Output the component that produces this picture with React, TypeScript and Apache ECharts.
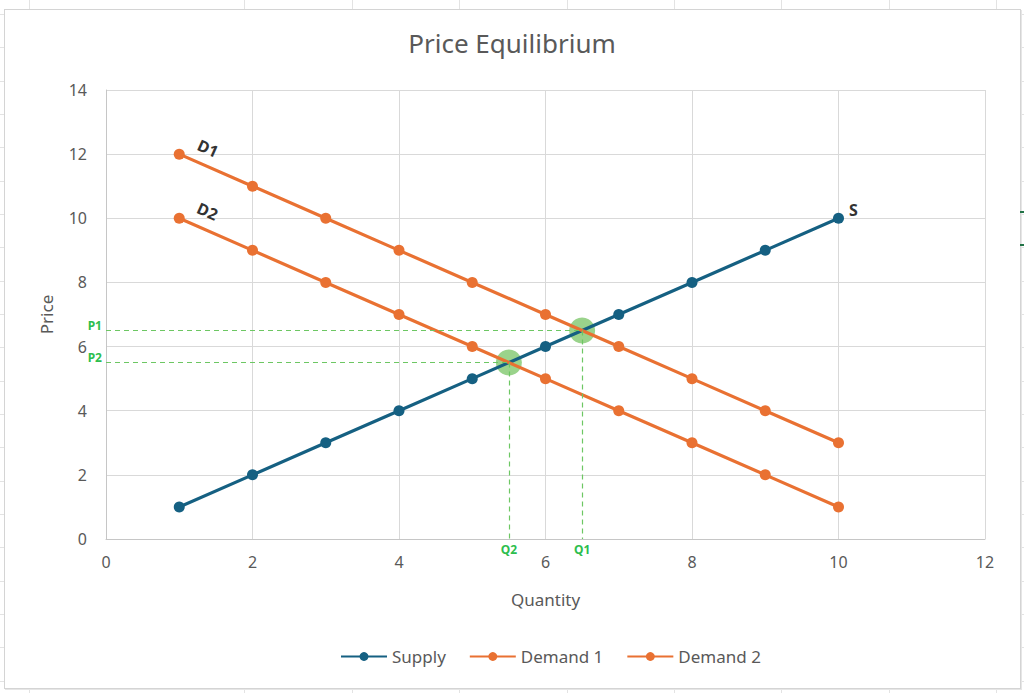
import React, { useEffect, useRef } from "react";
import * as echarts from "echarts";

const quantities = [1, 2, 3, 4, 5, 6, 7, 8, 9, 10];
const supply = [1, 2, 3, 4, 5, 6, 7, 8, 9, 10];
const demand1 = [12, 11, 10, 9, 8, 7, 6, 5, 4, 3];
const demand2 = [10, 9, 8, 7, 6, 5, 4, 3, 2, 1];
const eqQuantity = [6.5, 5.5];
const eqPrice = [6.5, 5.5];
const eqPriceLabels = ["P1", "P2"];
const eqQuantityLabels = ["Q1", "Q2"];
const seriesNames = ["Supply", "Demand 1", "Demand 2"];
const curveLabels = ["S", "D1", "D2"];

const FONT = "'Noto Sans', 'Open Sans', sans-serif";
const TEXT = "#595959";
const BLUE = "#156082";
const ORANGE = "#E97132";
const GREEN_TXT = "#2DBE4E";
const GREEN_LINE = "#6DC763";

export default function App() {
  const ref = useRef<HTMLDivElement>(null);

  useEffect(() => {
    if (!ref.current) return;
    const chart = echarts.init(ref.current, undefined, { renderer: "svg" });

    const curveLabel = (text: string, rotate: number, offset: number[]) => ({
      show: true,
      formatter: text,
      position: "inside",
      offset,
      rotate,
      fontFamily: FONT,
      fontWeight: "bold",
      fontSize: 16,
      color: "#333333",
    });

    const supplyData = quantities.map((q, i) =>
      i === quantities.length - 1
        ? { value: [q, supply[i]], label: curveLabel(curveLabels[0], 0, [15, -8]) }
        : [q, supply[i]]
    );
    const d1Data = quantities.map((q, i) =>
      i === 0
        ? { value: [q, demand1[i]], label: curveLabel(curveLabels[1], -24, [24, -17]) }
        : [q, demand1[i]]
    );
    const d2Data = quantities.map((q, i) =>
      i === 0
        ? { value: [q, demand2[i]], label: curveLabel(curveLabels[2], -24, [23, -18]) }
        : [q, demand2[i]]
    );

    const greenLabel = {
      show: true,
      color: GREEN_TXT,
      fontFamily: FONT,
      fontWeight: "bold",
      fontSize: 12,
    };

    const markLines: any[] = [];
    eqQuantity.forEach((q, i) => {
      markLines.push([
        {
          coord: [0, eqPrice[i]],
          label: { ...greenLabel, formatter: eqPriceLabels[i], position: "start", distance: 4, offset: [0, -5] },
        },
        { coord: [q, eqPrice[i]] },
      ]);
      markLines.push([
        {
          coord: [q, eqPrice[i]],
          label: { ...greenLabel, formatter: eqQuantityLabels[i], position: "end", distance: 4 },
        },
        { coord: [q, 0] },
      ]);
    });

    const lineSeries = (name: string, data: any[], color: string) => ({
      name,
      type: "line",
      data,
      symbol: "circle",
      symbolSize: 11,
      lineStyle: { color, width: 3.2 },
      itemStyle: { color },
      z: 3,
      label: { show: false },
    });

    chart.setOption({
      animation: false,
      backgroundColor: "transparent",
      textStyle: { fontFamily: FONT },
      title: {
        text: "Price Equilibrium",
        left: "center",
        top: 25,
        textStyle: { fontFamily: FONT, fontSize: 26, fontWeight: "normal", color: TEXT },
      },
      legend: {
        data: seriesNames,
        bottom: 23,
        left: 335,
        itemWidth: 46,
        itemHeight: 11,
        itemGap: 23,
        textStyle: { fontFamily: FONT, fontSize: 17, color: TEXT },
      },
      grid: { left: 106, right: 39, top: 90, bottom: 154, containLabel: false },
      xAxis: {
        type: "value",
        min: 0,
        max: 12,
        interval: 2,
        name: "Quantity",
        nameLocation: "middle",
        nameGap: 52,
        nameTextStyle: { fontFamily: FONT, fontSize: 17, color: TEXT },
        axisLine: { show: true, lineStyle: { color: "#c6c6c6", width: 1 } },
        axisTick: { show: false },
        axisLabel: { margin: 15, fontFamily: FONT, fontSize: 16, color: TEXT },
        splitLine: { show: true, lineStyle: { color: "#d9d9d9", width: 1 } },
      },
      yAxis: {
        type: "value",
        min: 0,
        max: 14,
        interval: 2,
        name: "Price",
        nameLocation: "middle",
        nameRotate: 90,
        nameGap: 51,
        nameTextStyle: { fontFamily: FONT, fontSize: 17, color: TEXT },
        axisLine: { show: true, lineStyle: { color: "#c6c6c6", width: 1 } },
        axisTick: { show: false },
        axisLabel: { margin: 19, fontFamily: FONT, fontSize: 16, color: TEXT },
        splitLine: { show: true, lineStyle: { color: "#d9d9d9", width: 1 } },
      },
      series: [
        {
          name: "Equilibrium",
          type: "scatter",
          data: eqQuantity.map((q, i) => [q, eqPrice[i]]),
          symbolSize: 26,
          itemStyle: { color: "rgba(112, 192, 90, 0.88)" },
          z: 2,
          silent: true,
          markLine: {
            silent: true,
            symbol: ["none", "none"],
            lineStyle: { color: GREEN_LINE, width: 1.2, type: [5, 4] },
            data: markLines,
          },
        },
        lineSeries(seriesNames[0], supplyData, BLUE),
        lineSeries(seriesNames[1], d1Data, ORANGE),
        lineSeries(seriesNames[2], d2Data, ORANGE),
      ],
    });

    return () => chart.dispose();
  }, []);

  const sheetBg = {
    position: "fixed" as const,
    left: 0,
    top: 0,
    width: 1024,
    height: 693,
    background: "#ffffff",
    backgroundImage:
      "repeating-linear-gradient(to right, transparent 0px, transparent 29px, #e3e3e3 29px, #e3e3e3 30px, transparent 30px, transparent 107.5px)," +
      "repeating-linear-gradient(to bottom, transparent 0px, transparent 14px, #e3e3e3 14px, #e3e3e3 15px, transparent 15px, transparent 33.33px)",
    overflow: "hidden",
  };

  return (
    <div style={sheetBg}>
      <div
        style={{
          position: "absolute",
          left: 4,
          top: 9,
          width: 1015,
          height: 678,
          background: "#ffffff",
          border: "1px solid #d4d4d4",
          boxShadow: "1px 1px 0 #e6e6e6",
        }}
      />
      <div style={{ position: "absolute", left: 1020, top: 211, width: 4, height: 2, background: "#217346" }} />
      <div style={{ position: "absolute", left: 1020, top: 244, width: 4, height: 2, background: "#217346" }} />
      <div ref={ref} style={{ position: "absolute", left: 0, top: 0, width: 1024, height: 693 }} />
    </div>
  );
}
